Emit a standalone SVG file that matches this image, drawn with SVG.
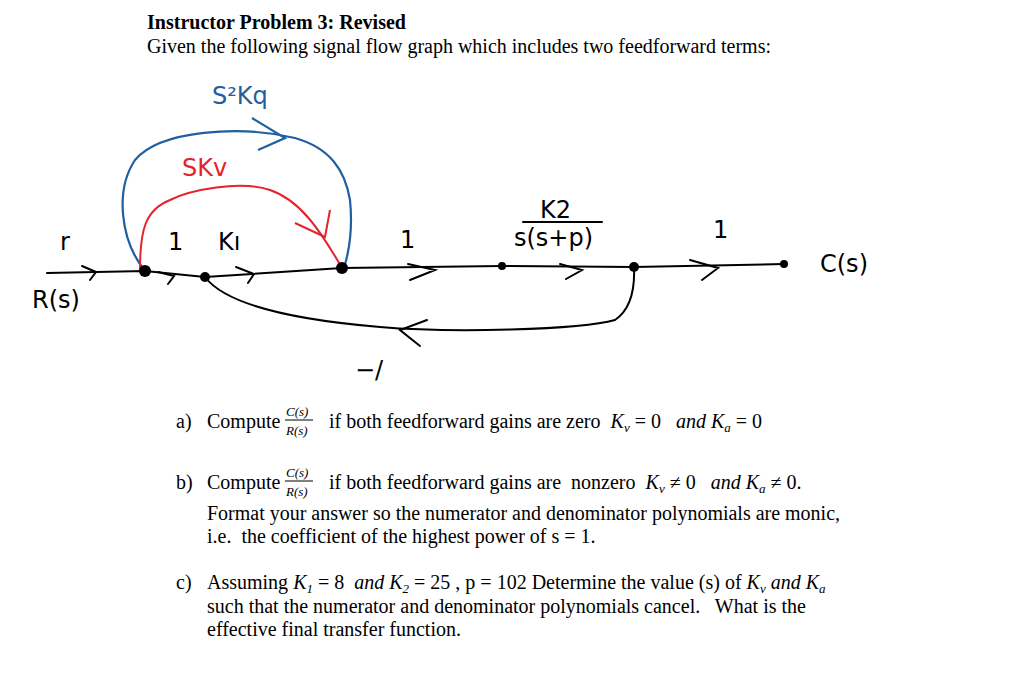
<svg xmlns="http://www.w3.org/2000/svg" width="1013" height="679" viewBox="0 0 1013 679" xml:space="preserve">
<style>
.t{font-family:"Liberation Serif",serif;font-size:20px;fill:#000;white-space:pre}
.m{font-family:"Liberation Serif",serif;font-style:italic}
.h{font-family:"DejaVu Sans",sans-serif;font-size:24px;fill:#000}
.w{fill:none;stroke:#000;stroke-width:2;stroke-linecap:round}
.sm{font-family:"Liberation Serif",serif;font-size:13px;font-style:italic}
</style>
<rect width="1013" height="679" fill="#fff"/>
<text class="t" x="147" y="29" font-weight="bold" font-size="20" textLength="259" lengthAdjust="spacingAndGlyphs">Instructor Problem 3: Revised</text>
<text class="t" x="147" y="53" font-size="20" textLength="624" lengthAdjust="spacingAndGlyphs">Given the following signal flow graph which includes two feedforward terms:</text>
<g id="connectors">
<path class="w" d="M47 273 L145 271 L205 277 L342 268 L502 266 L634 267 L784 264"/>
<path class="w" d="M205 277 C230 310 320 322 380 327 C450 333 580 330 615 320 C630 310 635 290 634 267"/>
<path class="w" d="M82 266 L96 272 L90 280 M158 272 L174 276 L168 284 M236 267 L254 274 L248 283 M408 264 L435 270 L410 280 M560 264 L582 270 L566 279 M690 260 L718 268 L702 280"/>
<path class="w" d="M427 320 L400 330 L420 346"/>
<path fill="none" stroke="#1f5fa0" stroke-width="2.2" d="M145 271 C120 240 115 190 135 160 C160 130 240 125 295 138 C330 148 345 170 350 200 C353 230 348 255 344 268"/>
<path fill="none" stroke="#1f5fa0" stroke-width="2.2" d="M252 118 L285 138 L258 150"/>
<path fill="none" stroke="#e5232b" stroke-width="2" d="M140 270 C140 230 145 210 170 200 C190 190 240 180 270 190 C300 200 320 230 342 268"/>
<path fill="none" stroke="#e5232b" stroke-width="2" d="M295 223 L325 237 L330 210"/>
</g>
<g id="nodes">
<circle id="n1" cx="145" cy="271" r="6"/>
<circle id="n2" cx="205" cy="277" r="5"/>
<circle id="n3" cx="342" cy="268" r="6"/>
<circle id="n4" cx="502" cy="266" r="4"/>
<circle id="n5" cx="634" cy="267" r="5"/>
<circle id="n6" cx="784" cy="264" r="4"/>
</g>
<g id="labels">
<text class="h" x="212" y="104" style="fill:#1f5fa0">S²Kq</text>
<text class="h" x="182" y="176" font-size="20" style="fill:#e5232b">SKv</text>
<text class="h" x="60" y="250" font-size="18">r</text>
<text class="h" x="32" y="308">R(s)</text>
<text class="h" x="168" y="250" font-size="20">1</text>
<text class="h" x="218" y="250" font-size="20">Kı</text>
<text class="h" x="400" y="248" font-size="20">1</text>
<text class="h" x="540" y="218" font-size="18">K2</text>
<path class="w" d="M523 222 L602 222"/>
<text class="h" x="514" y="246" font-size="20">s(s+p)</text>
<text class="h" x="713" y="238" font-size="20">1</text>
<text class="h" x="820" y="272">C(s)</text>
<text class="h" x="355" y="378">−/</text>
</g>
<g id="text">
<text class="t" x="176" y="428">a)</text><text class="t" x="207" y="428">Compute</text>
<text class="sm" x="286" y="416">C(s)</text><path d="M285 420 L313 420" stroke="#000"/><text class="sm" x="286" y="435">R(s)</text>
<text class="t" x="329" y="428">if both feedforward gains are zero  <tspan class="m">K</tspan><tspan class="sm" dy="4">v</tspan><tspan dy="-4"> = 0   </tspan><tspan class="m">and K</tspan><tspan class="sm" dy="4">a</tspan><tspan dy="-4"> = 0</tspan></text>
<text class="t" x="176" y="489">b)</text><text class="t" x="207" y="489">Compute</text>
<text class="sm" x="286" y="477">C(s)</text><path d="M285 481 L313 481" stroke="#000"/><text class="sm" x="286" y="496">R(s)</text>
<text class="t" x="329" y="489">if both feedforward gains are  nonzero  <tspan class="m">K</tspan><tspan class="sm" dy="4">v</tspan><tspan dy="-4"> ≠ 0   </tspan><tspan class="m">and K</tspan><tspan class="sm" dy="4">a</tspan><tspan dy="-4"> ≠ 0.</tspan></text>
<text class="t" x="207" y="520" textLength="633" lengthAdjust="spacingAndGlyphs">Format your answer so the numerator and denominator polynomials are monic,</text>
<text class="t" x="207" y="543">i.e.  the coefficient of the highest power of s = 1.</text>
<text class="t" x="176" y="589">c)</text><text class="t" x="207" y="589">Assuming <tspan class="m">K</tspan><tspan class="sm" dy="4">1</tspan><tspan dy="-4"> = 8  </tspan><tspan class="m">and K</tspan><tspan class="sm" dy="4">2</tspan><tspan dy="-4"> = 25 , p = 102 Determine the value (s) of </tspan><tspan class="m">K</tspan><tspan class="sm" dy="4">v</tspan><tspan class="m" dy="-4"> and K</tspan><tspan class="sm" dy="4">a</tspan></text>
<text class="t" x="207" y="613">such that the numerator and denominator polynomials cancel.   What is the</text>
<text class="t" x="207" y="636">effective final transfer function.</text>
</g>
</svg>
